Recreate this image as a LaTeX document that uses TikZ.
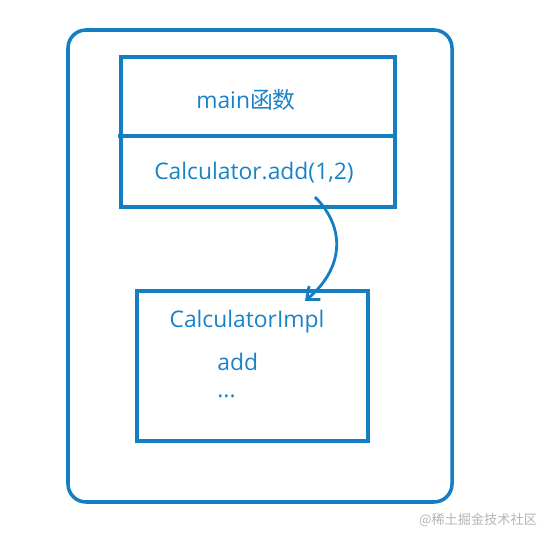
\documentclass[tikz,border=0pt]{standalone}
\usepackage{fontspec}
\setmainfont{Open Sans}
\newfontfamily\cjk{Noto Sans CJK SC}
\usepackage{tikz}
\usetikzlibrary{arrows.meta}
\definecolor{boxblue}{HTML}{137EC2}
\definecolor{textblue}{HTML}{1A82C6}
\definecolor{markgray}{HTML}{B4B4B4}

\begin{document}
\begin{tikzpicture}[x=0.02cm,y=-0.02cm]
\useasboundingbox (0,0) rectangle (540,540);
\begin{scope}[every node/.style={text=textblue,font=\fontsize{13}{15}\selectfont,inner sep=0pt}]
\draw[line width=2pt, boxblue, rounded corners=0.36cm] (68,30) rectangle (452,502); 

\draw[line width=2pt, boxblue] (121,57) rectangle (395,207); 
\draw[line width=2pt, boxblue] (118,136) -- (395,136); 
\draw[line width=2pt, boxblue] (137,291) rectangle (368,441); 

\node (main) at (246,100) {main\cjk 函数}; 
\node (call) at (254,173) {Calculator.add(1,2)}; 

\node (impl) at (247,322) {CalculatorImpl}; 
\node[anchor=west] (add) at (217,362) {add}; 
\node[anchor=west] (dots) at (217,396) {...}; 

\coordinate (from) at (315,197); 
\coordinate (to) at (305,301); 
\draw[line width=1.6pt, boxblue, -{Straight Barb[length=6pt,width=10pt]}] (from) .. controls (346,228) and (344,268) .. (to); 

\node[text=markgray, font=\cjk\fontsize{7.5}{9}\selectfont] (mark) at (478,520) {@稀土掘金技术社区}; 
\end{scope}
\end{tikzpicture}
\end{document}
